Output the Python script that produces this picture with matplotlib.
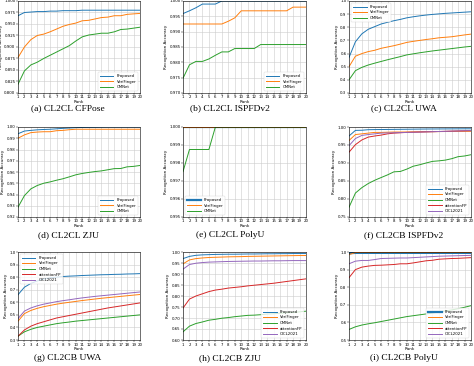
import matplotlib
matplotlib.use('Agg')
import matplotlib.pyplot as plt
import numpy as np

ranks = list(range(1, 21))

## CL2CL panels (3 methods)
a_prop = [0.968, 0.975, 0.976, 0.977, 0.977, 0.978, 0.978, 0.979, 0.979, 0.979, 0.980, 0.980, 0.980, 0.980, 0.980, 0.980, 0.980, 0.980, 0.980, 0.980]
a_veri = [0.877, 0.900, 0.916, 0.925, 0.928, 0.933, 0.939, 0.945, 0.949, 0.952, 0.957, 0.958, 0.961, 0.964, 0.965, 0.968, 0.968, 0.971, 0.972, 0.973]
a_cmn = [0.819, 0.848, 0.861, 0.867, 0.875, 0.882, 0.889, 0.896, 0.903, 0.913, 0.922, 0.926, 0.928, 0.930, 0.930, 0.933, 0.938, 0.939, 0.941, 0.943]

b_prop = [0.9959, 0.9968, 0.9978, 0.999, 0.999, 0.999, 1.0, 1.0, 1.0, 1.0, 1.0, 1.0, 1.0, 1.0, 1.0, 1.0, 1.0, 1.0, 1.0, 1.0]
b_veri = [0.9925, 0.9925, 0.9925, 0.9925, 0.9925, 0.9925, 0.9925, 0.9934, 0.9945, 0.9968, 0.9968, 0.9968, 0.9968, 0.9968, 0.9968, 0.9968, 0.9968, 0.998, 0.998, 0.998]
b_cmn = [0.9748, 0.9792, 0.9803, 0.9803, 0.9811, 0.9823, 0.9834, 0.9834, 0.9845, 0.9845, 0.9845, 0.9845, 0.9858, 0.9858, 0.9858, 0.9858, 0.9858, 0.9858, 0.9858, 0.9858]

c_prop = [0.57, 0.69, 0.75, 0.785, 0.805, 0.825, 0.838, 0.85, 0.86, 0.872, 0.88, 0.887, 0.893, 0.898, 0.902, 0.906, 0.909, 0.912, 0.915, 0.918]
c_veri = [0.50, 0.58, 0.60, 0.615, 0.625, 0.64, 0.65, 0.66, 0.672, 0.685, 0.693, 0.70, 0.707, 0.713, 0.72, 0.724, 0.728, 0.735, 0.742, 0.748]
c_cmn = [0.40, 0.47, 0.495, 0.513, 0.527, 0.54, 0.553, 0.565, 0.577, 0.59, 0.598, 0.606, 0.613, 0.62, 0.626, 0.632, 0.638, 0.644, 0.65, 0.655]

d_prop = [0.994, 0.9964, 0.997, 0.9975, 0.9978, 0.998, 0.9984, 0.9988, 0.9991, 0.9994, 0.9996, 0.9997, 0.9998, 0.9999, 1.0, 1.0, 1.0, 1.0, 1.0, 1.0]
d_veri = [0.990, 0.993, 0.995, 0.9955, 0.9958, 0.9958, 0.9967, 0.997, 0.9976, 0.998, 0.998, 0.998, 0.998, 0.998, 0.998, 0.998, 0.998, 0.998, 0.998, 0.998]
d_cmn = [0.9287, 0.939, 0.945, 0.948, 0.950, 0.9512, 0.9527, 0.954, 0.9557, 0.9575, 0.9587, 0.9596, 0.9604, 0.961, 0.962, 0.963, 0.9631, 0.9646, 0.965, 0.9658]

e_prop = [1.0] * 20
e_veri = [1.0] * 20
e_cmn = [0.99752, 0.99875, 0.99875, 0.99875, 0.99875, 1.0, 1.0, 1.0, 1.0, 1.0, 1.0, 1.0, 1.0, 1.0, 1.0, 1.0, 1.0, 1.0, 1.0, 1.0]

## CL2CB panels (5 methods)
f_prop = [0.975, 0.9906, 0.991, 0.9925, 0.9928, 0.993, 0.9932, 0.9934, 0.9936, 0.9938, 0.994, 0.9942, 0.9944, 0.9945, 0.9946, 0.9947, 0.9948, 0.9949, 0.995, 0.995]
f_veri = [0.9625, 0.979, 0.981, 0.983, 0.985, 0.985, 0.9855, 0.986, 0.986, 0.9862, 0.9865, 0.9867, 0.987, 0.987, 0.9872, 0.9875, 0.9877, 0.988, 0.988, 0.988]
f_cmn = [0.777, 0.8165, 0.8315, 0.843, 0.852, 0.8596, 0.867, 0.8755, 0.8765, 0.883, 0.891, 0.8951, 0.900, 0.9045, 0.906, 0.908, 0.912, 0.9176, 0.9195, 0.923]
f_att = [0.930, 0.951, 0.964, 0.972, 0.975, 0.9775, 0.981, 0.983, 0.984, 0.985, 0.9855, 0.986, 0.9865, 0.987, 0.9875, 0.988, 0.9885, 0.989, 0.9895, 0.990]
f_cicl = [0.948, 0.968, 0.9766, 0.979, 0.981, 0.983, 0.9835, 0.984, 0.9845, 0.985, 0.9855, 0.986, 0.9865, 0.987, 0.9875, 0.988, 0.9885, 0.989, 0.9895, 0.990]

g_prop = [0.66, 0.72, 0.75, 0.77, 0.785, 0.795, 0.80, 0.805, 0.808, 0.81, 0.813, 0.815, 0.817, 0.819, 0.82, 0.822, 0.823, 0.825, 0.826, 0.828]
g_veri = [0.45, 0.51, 0.535, 0.552, 0.565, 0.575, 0.585, 0.593, 0.60, 0.607, 0.614, 0.62, 0.626, 0.632, 0.637, 0.642, 0.647, 0.652, 0.657, 0.662]
g_cmn = [0.33, 0.365, 0.385, 0.40, 0.41, 0.42, 0.43, 0.437, 0.443, 0.45, 0.455, 0.46, 0.465, 0.47, 0.475, 0.48, 0.485, 0.49, 0.495, 0.50]
g_att = [0.33, 0.38, 0.41, 0.43, 0.445, 0.46, 0.475, 0.485, 0.495, 0.505, 0.515, 0.525, 0.535, 0.545, 0.555, 0.563, 0.571, 0.579, 0.587, 0.595]
g_cicl = [0.47, 0.53, 0.555, 0.572, 0.585, 0.595, 0.605, 0.613, 0.62, 0.628, 0.635, 0.641, 0.647, 0.652, 0.657, 0.662, 0.667, 0.672, 0.677, 0.682]

h_prop = [0.970, 0.980, 0.985, 0.987, 0.988, 0.989, 0.9895, 0.99, 0.99, 0.9905, 0.991, 0.991, 0.9915, 0.992, 0.992, 0.9925, 0.9925, 0.993, 0.993, 0.993]
h_veri = [0.946, 0.964, 0.970, 0.973, 0.975, 0.976, 0.977, 0.978, 0.9785, 0.979, 0.98, 0.9805, 0.981, 0.9815, 0.982, 0.9825, 0.983, 0.9835, 0.984, 0.984]
h_cmn = [0.637, 0.663, 0.675, 0.682, 0.690, 0.694, 0.699, 0.702, 0.706, 0.709, 0.712, 0.713, 0.715, 0.718, 0.719, 0.722, 0.724, 0.725, 0.728, 0.731]
h_att = [0.745, 0.786, 0.800, 0.810, 0.820, 0.827, 0.831, 0.836, 0.839, 0.842, 0.846, 0.849, 0.852, 0.855, 0.858, 0.862, 0.866, 0.870, 0.874, 0.878]
h_cicl = [0.922, 0.943, 0.949, 0.952, 0.954, 0.955, 0.956, 0.957, 0.9575, 0.958, 0.9585, 0.959, 0.959, 0.9595, 0.96, 0.96, 0.9605, 0.961, 0.961, 0.961]

i_prop = [0.993, 0.995, 0.995, 0.995, 0.995, 0.995, 0.995, 0.995, 0.995, 0.995, 0.995, 0.995, 0.995, 0.995, 0.995, 0.995, 0.995, 0.995, 0.995, 0.995]
i_veri = [0.985, 0.997, 0.998, 0.998, 0.998, 0.998, 0.998, 0.998, 0.998, 0.998, 0.998, 0.998, 0.998, 0.998, 0.998, 0.998, 0.998, 0.998, 0.998, 0.998]
i_cmn = [0.56, 0.575, 0.585, 0.592, 0.598, 0.605, 0.612, 0.619, 0.626, 0.633, 0.638, 0.643, 0.648, 0.653, 0.659, 0.665, 0.671, 0.678, 0.686, 0.695]
i_att = [0.854, 0.900, 0.914, 0.920, 0.924, 0.925, 0.927, 0.929, 0.933, 0.933, 0.938, 0.944, 0.950, 0.953, 0.959, 0.961, 0.963, 0.964, 0.966, 0.968]
i_cicl = [0.933, 0.948, 0.952, 0.952, 0.957, 0.963, 0.964, 0.965, 0.966, 0.966, 0.968, 0.970, 0.972, 0.974, 0.976, 0.977, 0.978, 0.979, 0.980, 0.981]

names3 = ['Proposed', 'VeriFinger', 'CMNet']
names5 = ['Proposed', 'VeriFinger', 'CMNet', 'attentionFP', 'CICL2021']

captions = ['(a) CL2CL CFPose', '(b) CL2CL ISPFDv2', '(c) CL2CL UWA',
            '(d) CL2CL ZJU', '(e) CL2CL PolyU', '(f) CL2CB ISPFDv2',
            '(g) CL2CB UWA', '(h) CL2CB ZJU', '(i) CL2CB PolyU']

# (data, yticks, format, legend loc, thick proposed)
panels = [
    ([a_prop, a_veri, a_cmn], np.arange(0.800, 1.0001, 0.025), '%.3f', 'lower right', False),
    ([b_prop, b_veri, b_cmn], np.arange(0.970, 1.0001, 0.005), '%.3f', 'lower right', False),
    ([c_prop, c_veri, c_cmn], np.arange(0.3, 1.0001, 0.1), '%.1f', 'upper left', False),
    ([d_prop, d_veri, d_cmn], np.arange(0.92, 1.0001, 0.01), '%.2f', 'lower right', False),
    ([e_prop, e_veri, e_cmn], np.arange(0.995, 1.00001, 0.001), '%.3f', 'lower left', True),
    ([f_prop, f_veri, f_cmn, f_att, f_cicl], np.arange(0.75, 1.0001, 0.05), '%.2f', 'lower right', False),
    ([g_prop, g_veri, g_cmn, g_att, g_cicl], np.arange(0.3, 1.0001, 0.1), '%.1f', 'upper left', False),
    ([h_prop, h_veri, h_cmn, h_att, h_cicl], np.arange(0.60, 1.0001, 0.05), '%.2f', 'lower right', False),
    ([i_prop, i_veri, i_cmn, i_att, i_cicl], np.arange(0.5, 1.0001, 0.1), '%.1f', 'lower right', True),
]

W, H = 474, 366
fig = plt.figure(figsize=(W / 100, H / 100), dpi=100)

col_l = [18, 183, 349]
col_r = [140, 306, 471]
row_t = [1, 127, 252]
row_b = [93, 217, 340]
cap_x = [68, 230, 404]
cap_y = [108, 235, 358]
colors = ['tab:blue', 'tab:orange', 'tab:green', 'tab:red', 'tab:purple']

for k, (series, yt, fmt, loc, thick) in enumerate(panels):
    r, c = k // 3, k % 3
    ax = fig.add_axes([col_l[c] / W, 1 - row_b[r] / H,
                       (col_r[c] - col_l[c]) / W, (row_b[r] - row_t[r]) / H])
    labels = names3 if len(series) == 3 else names5
    for j, s in enumerate(series):
        lw = 1.6 if (thick and j == 0) else 0.7
        ax.plot(ranks, s, color=colors[j], lw=lw, label=labels[j])
    ax.set_xlim(1, 20)
    ax.set_ylim(yt[0], yt[-1])
    ax.set_xticks(ranks)
    ax.set_yticks(yt)
    ax.set_yticklabels([fmt % v for v in yt])
    ax.tick_params(labelsize=2.8, length=1.2, width=0.3, pad=0.6)
    ax.grid(True, color='#cccccc', lw=0.4)
    for sp in ax.spines.values():
        sp.set_linewidth(0.4)
    ax.set_xlabel('Rank', fontsize=3, labelpad=0.5)
    ax.set_ylabel('Recognition Accuracy', fontsize=3, labelpad=1)
    ax.legend(loc=loc, fontsize=2.8, handlelength=3.5, borderpad=0.5,
              labelspacing=0.4, framealpha=0.8, edgecolor='#cccccc').get_frame().set_linewidth(0.3)
    fig.text(cap_x[c] / W, 1 - cap_y[r] / H, captions[k], ha='center', va='center',
             fontsize=6.8, family='Liberation Serif')

fig.savefig('out.png', dpi=100)
